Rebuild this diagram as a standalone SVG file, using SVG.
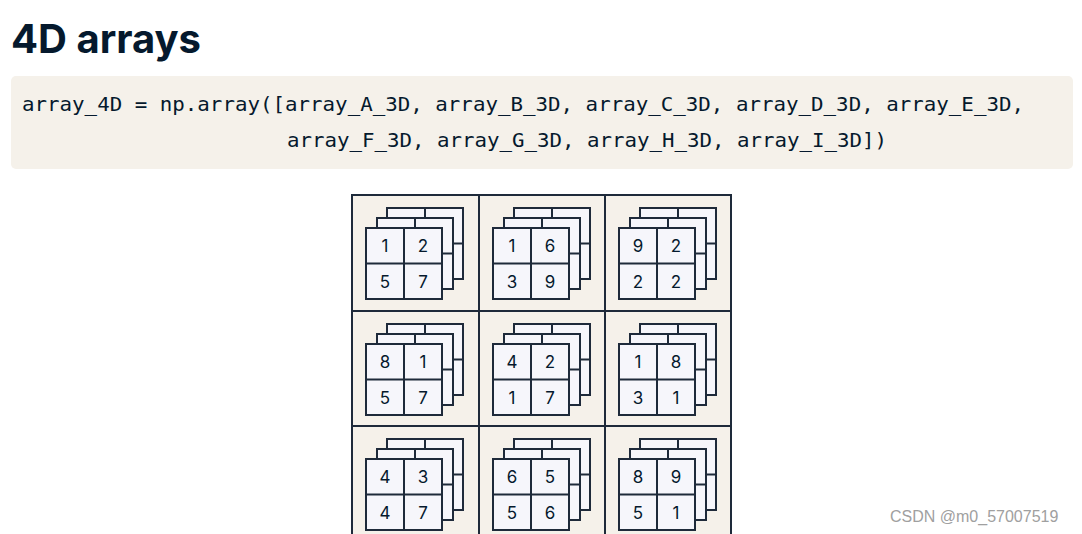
<svg xmlns="http://www.w3.org/2000/svg" xmlns:xlink="http://www.w3.org/1999/xlink" width="1082" height="534" viewBox="0 0 1082 534">
<style>
.t{font-family:"Inter","Liberation Sans",sans-serif;font-weight:700;font-size:40px;fill:#05192d}
.c{font-family:"DejaVu Sans Mono","Liberation Mono",monospace;font-size:19.5px;fill:#05192d}
.n{font-family:"Inter","Liberation Sans",sans-serif;font-size:17px;fill:#05192d;text-anchor:middle}
.cell{fill:#f5f1ea;stroke:#1e2a3a;stroke-width:2}
.sq{fill:#f6f6fb;stroke:#1e2a3a;stroke-width:2}
.ln{stroke:#1e2a3a;stroke-width:2}
.w{font-family:"Liberation Sans",sans-serif;font-size:16px;fill:#a0a0a0}
</style>
<defs>
<g id="layer"><rect class="sq" x="0" y="0" width="76" height="71"/><line class="ln" x1="38" y1="0" x2="38" y2="71"/><line class="ln" x1="0" y1="35.5" x2="76" y2="35.5"/></g>
<g id="stack"><use xlink:href="#layer" x="35" y="13"/><use xlink:href="#layer" x="25" y="23"/><use xlink:href="#layer" x="14" y="33"/></g>
</defs>
<text class="t" x="11" y="53">4D arrays</text>
<rect x="11" y="76" width="1062" height="93" rx="5" fill="#f5f1ea"/>
<text class="c" x="22" y="111" textLength="1002" lengthAdjust="spacingAndGlyphs">array_4D = np.array([array_A_3D, array_B_3D, array_C_3D, array_D_3D, array_E_3D,</text>
<text class="c" x="287" y="147" textLength="600" lengthAdjust="spacingAndGlyphs">array_F_3D, array_G_3D, array_H_3D, array_I_3D])</text>
<g id="A" transform="translate(352,195)"><rect class="cell" width="127" height="116"/><use xlink:href="#stack"/><text class="n" x="33" y="57">1</text><text class="n" x="71" y="57">2</text><text class="n" x="33" y="93">5</text><text class="n" x="71" y="93">7</text></g>
<g id="B" transform="translate(479,195)"><rect class="cell" width="126" height="116"/><use xlink:href="#stack"/><text class="n" x="33" y="57">1</text><text class="n" x="71" y="57">6</text><text class="n" x="33" y="93">3</text><text class="n" x="71" y="93">9</text></g>
<g id="C" transform="translate(605,195)"><rect class="cell" width="126" height="116"/><use xlink:href="#stack"/><text class="n" x="33" y="57">9</text><text class="n" x="71" y="57">2</text><text class="n" x="33" y="93">2</text><text class="n" x="71" y="93">2</text></g>
<g id="D" transform="translate(352,311)"><rect class="cell" width="127" height="115"/><use xlink:href="#stack"/><text class="n" x="33" y="57">8</text><text class="n" x="71" y="57">1</text><text class="n" x="33" y="93">5</text><text class="n" x="71" y="93">7</text></g>
<g id="E" transform="translate(479,311)"><rect class="cell" width="126" height="115"/><use xlink:href="#stack"/><text class="n" x="33" y="57">4</text><text class="n" x="71" y="57">2</text><text class="n" x="33" y="93">1</text><text class="n" x="71" y="93">7</text></g>
<g id="F" transform="translate(605,311)"><rect class="cell" width="126" height="115"/><use xlink:href="#stack"/><text class="n" x="33" y="57">1</text><text class="n" x="71" y="57">8</text><text class="n" x="33" y="93">3</text><text class="n" x="71" y="93">1</text></g>
<g id="G" transform="translate(352,426)"><rect class="cell" width="127" height="116"/><use xlink:href="#stack"/><text class="n" x="33" y="57">4</text><text class="n" x="71" y="57">3</text><text class="n" x="33" y="93">4</text><text class="n" x="71" y="93">7</text></g>
<g id="H" transform="translate(479,426)"><rect class="cell" width="126" height="116"/><use xlink:href="#stack"/><text class="n" x="33" y="57">6</text><text class="n" x="71" y="57">5</text><text class="n" x="33" y="93">5</text><text class="n" x="71" y="93">6</text></g>
<g id="I" transform="translate(605,426)"><rect class="cell" width="126" height="116"/><use xlink:href="#stack"/><text class="n" x="33" y="57">8</text><text class="n" x="71" y="57">9</text><text class="n" x="33" y="93">5</text><text class="n" x="71" y="93">1</text></g>
<g id="connectors"/>
<text class="w" x="890" y="522">CSDN @m0_57007519</text>
</svg>
